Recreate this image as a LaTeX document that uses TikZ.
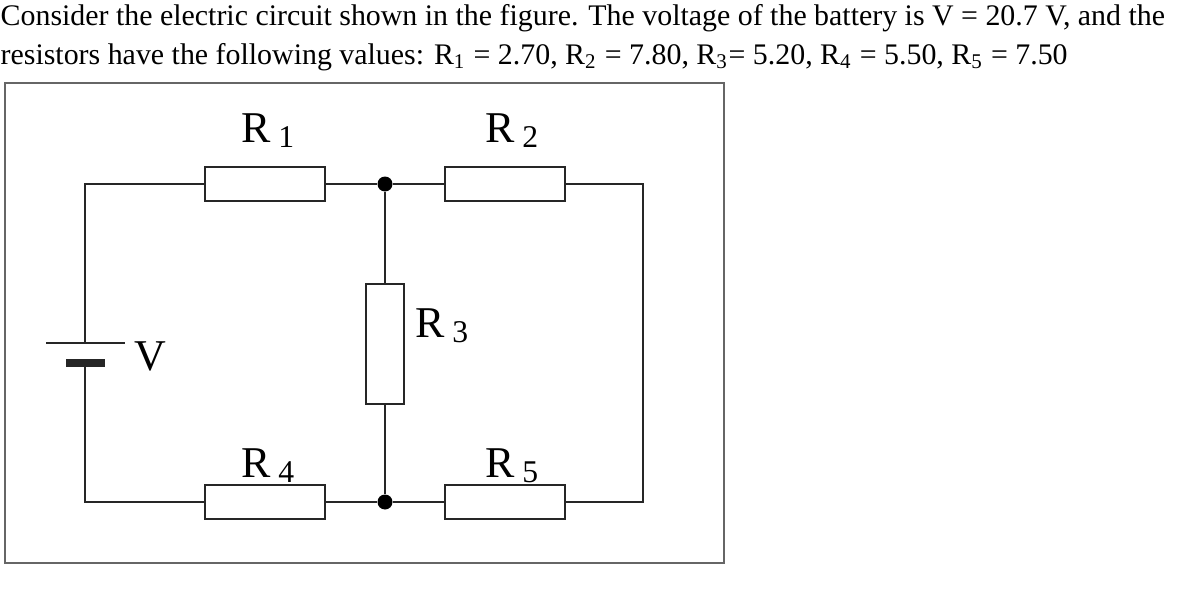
\documentclass[tikz,border=0pt]{standalone}
\usepackage{fontspec}
\setmainfont{Liberation Serif}
\newcommand{\rlab}[1]{R\,\raisebox{-0.25ex}{\fontsize{9pt}{10pt}\selectfont #1}}
\begin{document}
\begin{tikzpicture}[x=0.01cm,y=-0.01cm,
  wire/.style={line width=0.6pt,black!85},
  res/.style={draw=black!85,line width=0.6pt,fill=white,minimum width=120*0.01cm,minimum height=34*0.01cm,inner sep=0pt},
  vres/.style={res,minimum width=38*0.01cm,minimum height=120*0.01cm},
  lbl/.style={font=\fontsize{12.5pt}{14pt}\selectfont},
  dot/.style={circle,fill=black,inner sep=0pt,minimum size=15*0.01cm}]
\useasboundingbox (0,0) rectangle (1202,594);
\node[anchor=west,font=\fontsize{8.5pt}{9pt}\selectfont,inner sep=0pt] (t1) at (0,18) {Consider the electric circuit shown in the figure. The voltage of the battery is V = 20.7 V, and the};
\node[anchor=west,font=\fontsize{8.5pt}{9pt}\selectfont,inner sep=0pt] (t2) at (0,57) {resistors have the following values: R\textsubscript{1} = 2.70, R\textsubscript{2} = 7.80, R\textsubscript{3}= 5.20, R\textsubscript{4} = 5.50, R\textsubscript{5} = 7.50};
\draw[black!60,line width=0.6pt] (5,83) rectangle (724,563);
% nodes
\node[res] (r1) at (265,184) {};
\node[res] (r2) at (505,184) {};
\node[res] (r4) at (265,502) {};
\node[res] (r5) at (505,502) {};
\node[vres] (r3) at (385,344) {};
\node[dot] (j1) at (385,184) {};
\node[dot] (j2) at (385,502) {};
\coordinate (tl) at (85,184);
\coordinate (tr) at (643,184);
\coordinate (bl) at (85,502);
\coordinate (br) at (643,502);
\coordinate (bp) at (85,343);
\coordinate (bn) at (85,363);
% wires
\draw[wire] (bp) -- (tl) -- (r1.west);
\draw[wire] (r1.east) -- (j1) -- (r2.west);
\draw[wire] (r2.east) -- (tr) -- (br) -- (r5.east);
\draw[wire] (r5.west) -- (j2) -- (r4.east);
\draw[wire] (r4.west) -- (bl) -- (bn);
\draw[wire] (j1) -- (r3.north);
\draw[wire] (r3.south) -- (j2);
% battery
\draw[wire] (46,343) -- (125,343);
\draw[black!85,line width=2.2pt] (66,363) -- (105,363);
% labels
\node[lbl] (lv) at (150,356) {V};
\node[lbl] (l1) at (268,131) {\rlab{1}};
\node[lbl] (l2) at (512,131) {\rlab{2}};
\node[lbl] (l3) at (442,326) {\rlab{3}};
\node[lbl] (l4) at (268,466) {\rlab{4}};
\node[lbl] (l5) at (512,466) {\rlab{5}};
\end{tikzpicture}
\end{document}
